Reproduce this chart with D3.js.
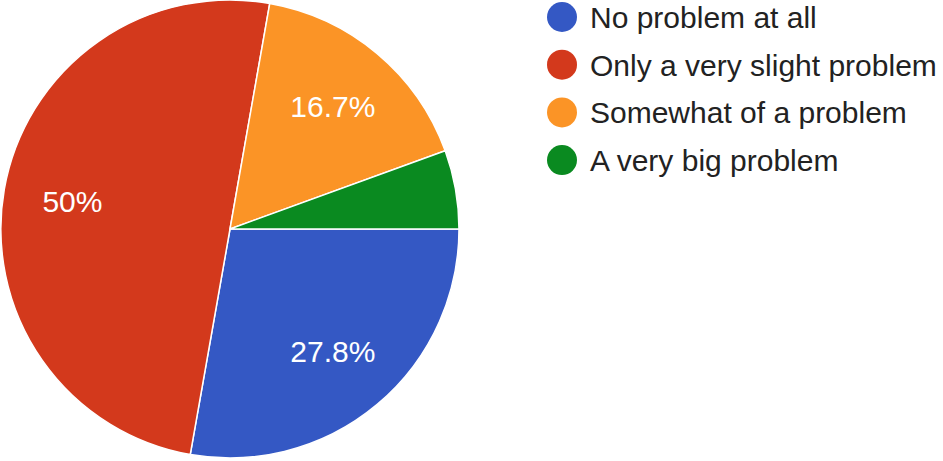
<!DOCTYPE html>
<html>
<head>
<meta charset="utf-8">
<script src="https://cdn.jsdelivr.net/npm/d3@7"></script>
<style>
  body { margin: 0; background: #fff; }
  svg { display: block; font-family: "Liberation Sans", Arial, sans-serif; }
</style>
</head>
<body>
<div id="chart"></div>
<script>
// answers, in drawing order (clockwise from 3 o'clock)
const categories = ["No problem at all", "Only a very slight problem", "Somewhat of a problem", "A very big problem"];
const counts = [5, 9, 3, 1];
const labels = ["27.8%", "50%", "16.7%", ""];
const colors = ["#3458c4", "#d3391c", "#fb9426", "#0a8a20"];

const width = 943, height = 461;
const cx = 230, cy = 229, radius = 229;

const svg = d3.select("#chart")
  .append("svg")
  .attr("width", width)
  .attr("height", height);

const pie = d3.pie()
  .sort(null)
  .value(d => d)
  .startAngle(Math.PI / 2)
  .endAngle(Math.PI / 2 + 2 * Math.PI);

const arc = d3.arc().innerRadius(0).outerRadius(radius);
const labelArc = d3.arc().innerRadius(160).outerRadius(160);

const g = svg.append("g").attr("transform", `translate(${cx},${cy})`);

const slices = pie(counts);

g.selectAll("path")
  .data(slices)
  .join("path")
  .attr("d", arc)
  .attr("fill", (d, i) => colors[i])
  .attr("stroke", "#fff")
  .attr("stroke-width", 1.5);

g.selectAll("text")
  .data(slices)
  .join("text")
  .attr("transform", d => `translate(${labelArc.centroid(d)})`)
  .attr("text-anchor", "middle")
  .attr("dy", "0.36em")
  .attr("fill", "#fff")
  .style("font-size", "30px")
  .text((d, i) => labels[i]);

// legend
const legend = svg.append("g").attr("transform", "translate(562,17)");
const row = legend.selectAll("g")
  .data(categories)
  .join("g")
  .attr("transform", (d, i) => `translate(0,${i * 47.7})`);

row.append("circle")
  .attr("r", 15)
  .attr("fill", (d, i) => colors[i]);

row.append("text")
  .attr("x", 28)
  .attr("dy", "0.36em")
  .attr("fill", "#222")
  .style("font-size", "30px")
  .text(d => d);
</script>
</body>
</html>
